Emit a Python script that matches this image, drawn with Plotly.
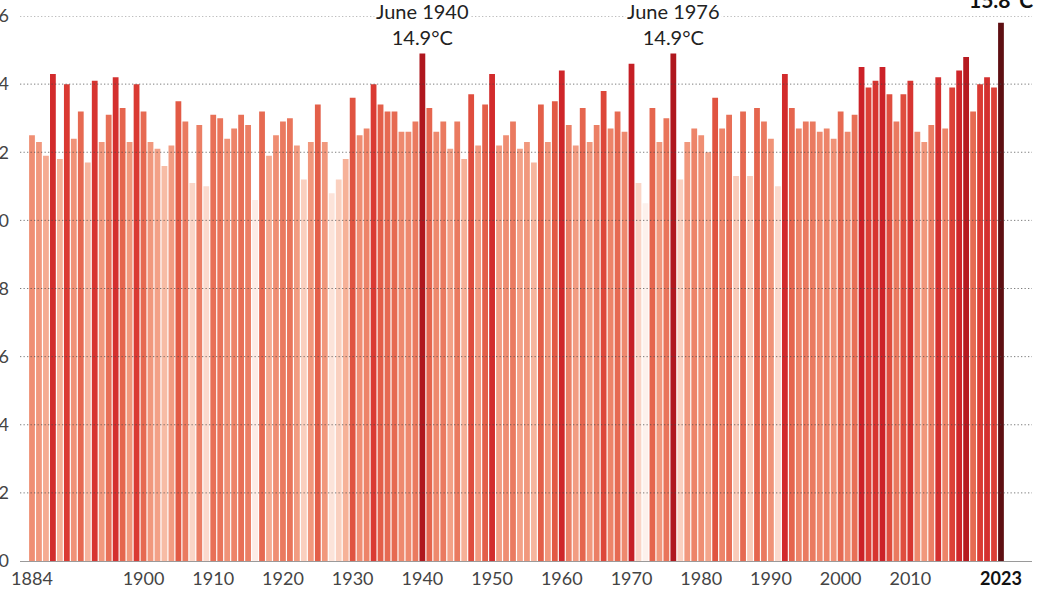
import plotly.graph_objects as go

years = list(range(1884, 2024))
temps = [
    12.5, 12.3, 11.9, 14.3, 11.8, 14.0, 12.4, 13.2, 11.7, 14.1,  # 1884-1893
    12.3, 13.1, 14.2, 13.3, 12.3, 14.0, 13.2, 12.3, 12.1, 11.6,  # 1894-1903
    12.2, 13.5, 12.9, 11.1, 12.8, 11.0, 13.1, 13.0, 12.4, 12.7,  # 1904-1913
    13.1, 12.8, 10.6, 13.2, 11.9, 12.5, 12.9, 13.0, 12.2, 11.2,  # 1914-1923
    12.3, 13.4, 12.3, 10.8, 11.2, 11.8, 13.6, 12.5, 12.7, 14.0,  # 1924-1933
    13.4, 13.2, 13.2, 12.6, 12.6, 12.9, 14.9, 13.3, 12.6, 12.9,  # 1934-1943
    12.1, 12.9, 11.8, 13.7, 12.2, 13.4, 14.3, 12.2, 12.5, 12.9,  # 1944-1953
    12.1, 12.3, 11.7, 13.4, 12.3, 13.5, 14.4, 12.8, 12.2, 13.3,  # 1954-1963
    12.3, 12.8, 13.8, 12.7, 13.2, 12.6, 14.6, 11.1, 10.5, 13.3,  # 1964-1973
    12.3, 13.0, 14.9, 11.2, 12.3, 12.7, 12.5, 12.0, 13.6, 12.7,  # 1974-1983
    13.1, 11.3, 13.2, 11.3, 13.3, 12.9, 12.4, 11.0, 14.3, 13.3,  # 1984-1993
    12.7, 12.9, 12.9, 12.6, 12.7, 12.4, 13.2, 12.6, 13.1, 14.5,  # 1994-2003
    13.9, 14.1, 14.5, 13.7, 12.9, 13.7, 14.1, 12.6, 12.3, 12.8,  # 2004-2013
    14.2, 12.7, 13.9, 14.4, 14.8, 13.2, 14.0, 14.2, 13.9, 15.8,  # 2014-2023
]

y_ticks = [0, 2, 4, 6, 8, 10, 12, 14, 16]
x_tickvals = [1884, 1900, 1910, 1920, 1930, 1940, 1950, 1960, 1970, 1980, 1990, 2000, 2010, 2023]
x_ticktext = ["1884", "1900", "1910", "1920", "1930", "1940", "1950", "1960",
              "1970", "1980", "1990", "2000", "2010", "<b style='color:#111'>2023</b>"]

highlights = [
    (1940, "June 1940<br>14.9°C"),
    (1976, "June 1976<br>14.9°C"),
]
record_year, record_text = 2023, "<b>15.8°C</b>"

colorscale = [
    [0.0, "#fdf1ec"],
    [0.094, "#fbdacd"],
    [0.189, "#f8c1ab"],
    [0.283, "#f4a68c"],
    [0.377, "#ef8e73"],
    [0.472, "#e9755b"],
    [0.566, "#e25a45"],
    [0.660, "#da3a33"],
    [0.755, "#cc2128"],
    [0.849, "#a8151b"],
    [1.0, "#5e0f12"],
]

FONT = "Lato"

fig = go.Figure(
    go.Bar(
        x=years,
        y=temps,
        marker=dict(color=temps, colorscale=colorscale, cmin=10.5, cmax=15.8,
                    line=dict(width=0)),
        hoverinfo="x+y",
    )
)

shapes = []
for v in y_ticks[1:]:
    shapes.append(dict(type="line", xref="paper", x0=0, x1=1, yref="y", y0=v, y1=v,
                       layer="above",
                       line=dict(color="rgba(70,70,70,0.7)", width=1, dash="1.3px,2.2px")))

annotations = []
for yr, txt in highlights:
    annotations.append(dict(x=yr, xref="x", y=1, yref="paper", yanchor="middle", yshift=-8,
                            text=txt, showarrow=False, bgcolor="white",
                            font=dict(family=FONT, size=20, color="#222")))
annotations.append(dict(x=record_year, xref="x", y=1, yref="paper", yanchor="bottom",
                        yshift=2, text=record_text, showarrow=False,
                        font=dict(family=FONT, size=21, color="#111")))

fig.update_layout(
    width=1064, height=600,
    template="none",
    margin=dict(l=20, r=32, t=16, b=39, autoexpand=False),
    paper_bgcolor="white", plot_bgcolor="white",
    bargap=0.17,
    showlegend=False,
    shapes=shapes,
    annotations=annotations,
    font=dict(family=FONT, size=18, color="#444"),
)
fig.update_xaxes(
    range=[1882.28, 2027.45], tickmode="array", tickvals=x_tickvals, ticktext=x_ticktext,
    showgrid=False, zeroline=False, showline=True, linecolor="#9a9a9a", linewidth=1,
    ticks="", ticklabelstandoff=1, automargin=False,
    tickfont=dict(family=FONT, size=18, color="#444"),
)
fig.update_yaxes(
    range=[0, 16], tickmode="array", tickvals=y_ticks, ticktext=[str(v) for v in y_ticks],
    showgrid=False, zeroline=False, showline=False, ticks="", ticklabelstandoff=10,
    automargin=False,
    tickfont=dict(family=FONT, size=18, color="#444"),
)

fig.write_html("out.html")
